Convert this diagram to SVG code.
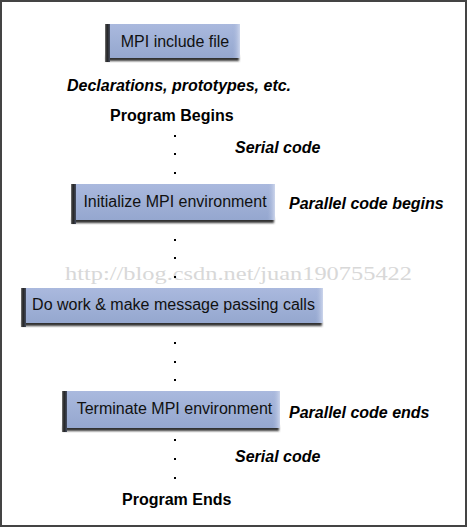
<svg xmlns="http://www.w3.org/2000/svg" width="468" height="528" viewBox="0 0 468 528">
<defs>
<linearGradient id="body" x1="0" y1="0" x2="0" y2="1">
<stop offset="0" stop-color="#aab9de"/>
<stop offset="0.5" stop-color="#9fb0d6"/>
<stop offset="1" stop-color="#95a7cf"/>
</linearGradient>
<linearGradient id="rfade" x1="0" y1="0" x2="1" y2="0">
<stop offset="0" stop-color="#9fb0d6" stop-opacity="0"/>
<stop offset="1" stop-color="#cdd6ec"/>
</linearGradient>
<linearGradient id="ledge" x1="0" y1="0" x2="1" y2="0">
<stop offset="0" stop-color="#777"/>
<stop offset="0.4" stop-color="#222"/>
<stop offset="1" stop-color="#454c5e"/>
</linearGradient>
<filter id="blur" x="-10%" y="-50%" width="120%" height="200%">
<feGaussianBlur stdDeviation="1.3"/>
</filter>
</defs>
<style>
.box{font-family:"Liberation Sans",Arial,sans-serif;font-size:16px;fill:#111;text-anchor:middle}
.lbl{font-family:"Liberation Sans",Arial,sans-serif;font-size:16px;font-weight:bold;fill:#000}
.it{font-style:italic}
.dot{fill:#000}
.sh{fill:#333;filter:url(#blur)}
.wm{font-family:"Liberation Serif","Times New Roman",serif;font-size:19px;fill:#d8d8d8}
</style>
<rect x="1" y="1" width="465" height="525" fill="#fff" stroke="#444" stroke-width="2"/>
<text class="wm" x="65" y="280" textLength="347" lengthAdjust="spacingAndGlyphs">http://blog.csdn.net/juan190755422</text>

<g id="connectors">
<rect class="dot" x="174" y="135" width="2" height="2"/>
<rect class="dot" x="174" y="153" width="2" height="2"/>
<rect class="dot" x="174" y="172" width="2" height="2"/>
<rect class="dot" x="174" y="239" width="2" height="2"/>
<rect class="dot" x="174" y="257" width="2" height="2"/>
<rect class="dot" x="174" y="276" width="2" height="2"/>
<rect class="dot" x="174" y="342" width="2" height="2"/>
<rect class="dot" x="174" y="361" width="2" height="2"/>
<rect class="dot" x="174" y="379" width="2" height="2"/>
<rect class="dot" x="174" y="439" width="2" height="2"/>
<rect class="dot" x="174" y="458" width="2" height="2"/>
<rect class="dot" x="174" y="477" width="2" height="2"/>
</g>

<g id="n1">
<rect class="sh" x="106" y="56" width="133" height="5"/>
<rect x="109" y="24" width="131" height="34" fill="url(#body)"/>
<rect x="232" y="24" width="8" height="34" fill="url(#rfade)"/>
<rect x="105" y="24" width="5" height="38" fill="url(#ledge)"/>
<text class="box" x="175" y="47">MPI include file</text>
</g>

<g id="t1"><text class="lbl it" x="67" y="91">Declarations, prototypes, etc.</text></g>
<g id="t2"><text class="lbl" x="110" y="121">Program Begins</text></g>
<g id="t3"><text class="lbl it" x="235" y="153">Serial code</text></g>

<g id="n2">
<rect class="sh" x="72" y="218" width="202" height="5"/>
<rect x="73" y="184" width="202" height="36" fill="url(#body)"/>
<rect x="267" y="184" width="8" height="36" fill="url(#rfade)"/>
<rect x="71" y="184" width="5" height="40" fill="url(#ledge)"/>
<text class="box" x="175" y="207">Initialize MPI environment</text>
</g>
<g id="t4"><text class="lbl it" x="289" y="209">Parallel code begins</text></g>

<g id="n3">
<rect class="sh" x="22" y="321" width="300" height="5"/>
<rect x="23" y="288" width="300" height="35" fill="url(#body)"/>
<rect x="315" y="288" width="8" height="35" fill="url(#rfade)"/>
<rect x="21" y="288" width="5" height="39" fill="url(#ledge)"/>
<text class="box" x="173.5" y="310">Do work &amp; make message passing calls</text>
</g>

<g id="n4">
<rect class="sh" x="63" y="426" width="216" height="5"/>
<rect x="64" y="391" width="216" height="37" fill="url(#body)"/>
<rect x="272" y="391" width="8" height="37" fill="url(#rfade)"/>
<rect x="62" y="391" width="5" height="41" fill="url(#ledge)"/>
<text class="box" x="174.5" y="414">Terminate MPI environment</text>
</g>
<g id="t5"><text class="lbl it" x="289" y="418">Parallel code ends</text></g>
<g id="t6"><text class="lbl it" x="235" y="462">Serial code</text></g>
<g id="t7"><text class="lbl" x="122" y="505">Program Ends</text></g>
</svg>
